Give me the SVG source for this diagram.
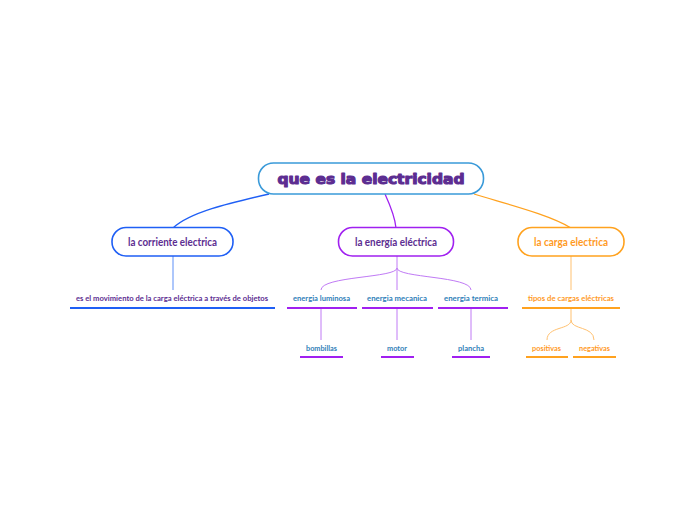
<svg xmlns="http://www.w3.org/2000/svg" width="697" height="520" viewBox="0 0 697 520">
<style>
text{font-family:"Lato","Open Sans","DejaVu Sans",sans-serif;text-anchor:middle;}
.main{font-size:11px;font-weight:700;}
.sub{font-size:8px;font-weight:700;}
.pur{fill:#5c2d91;}
.blu{fill:#2f80b8;}
.org{fill:#ff9a1f;}
.box{fill:#fff;stroke-width:1.6;}
.ul{stroke-width:2.2;fill:none;}
.ln{fill:none;stroke-width:1;}
</style>
<rect width="697" height="520" fill="#fff"/>
<g id="connectors">
<path d="M269,194 C230,203 190,212 173,228" stroke="#1f5ff5" stroke-width="1.3" fill="none"/>
<path d="M385,194 C390,205 395,216 396,228" stroke="#a020f0" stroke-width="1.3" fill="none"/>
<path d="M474,194 C510,205 550,215 571,228" stroke="#ffa21f" stroke-width="1.3" fill="none"/>
<path d="M173,256 L173,290" class="ln" stroke="#5d8ff7"/>
<path d="M397,256 L397,268 C397,278 321,276 321,290 M397,268 L397,290 M397,268 C397,278 471,276 471,290" class="ln" stroke="#c07af5"/>
<path d="M321,308 L321,340 M397,308 L397,340 M471,308 L471,340" class="ln" stroke="#c07af5"/>
<path d="M571,256 L571,290" class="ln" stroke="#ffc170"/>
<path d="M571,308 L571,320 C571,330 547,326 547,340 M571,320 C571,330 594,326 594,340" class="ln" stroke="#ffc170"/>
</g>
<g id="root">
<rect x="258.5" y="163" width="225" height="31" rx="15" class="box" stroke="#3a9ad9"/>
<text x="371" y="184" class="pur" style="font-family:'DejaVu Sans',sans-serif;font-size:14px;font-weight:700;stroke:#5c2d91;stroke-width:1.1;stroke-linejoin:round;" textLength="187" lengthAdjust="spacingAndGlyphs">que es la electricidad</text>
</g>
<g id="corriente">
<rect x="112" y="227.5" width="121" height="28.5" rx="14" class="box" stroke="#1f5ff5"/>
<text x="172.5" y="245.5" class="main pur" textLength="89" lengthAdjust="spacingAndGlyphs">la corriente electrica</text>
</g>
<g id="corriente-def">
<text x="172" y="301" class="sub pur" textLength="192" lengthAdjust="spacingAndGlyphs">es el movimiento de la carga eléctrica a través de objetos</text>
<line x1="70" y1="308" x2="275" y2="308" class="ul" stroke="#1f5ff5"/>
</g>
<g id="energia">
<rect x="338.5" y="227.5" width="115" height="28.5" rx="14" class="box" stroke="#a020f0"/>
<text x="396" y="245.5" class="main pur" textLength="82" lengthAdjust="spacingAndGlyphs">la energía eléctrica</text>
</g>
<g id="luminosa">
<text x="321.5" y="301" class="sub blu" textLength="57" lengthAdjust="spacingAndGlyphs">energia luminosa</text>
<line x1="287" y1="308" x2="357" y2="308" class="ul" stroke="#a020f0"/>
</g>
<g id="mecanica">
<text x="397" y="301" class="sub blu" textLength="60" lengthAdjust="spacingAndGlyphs">energia mecanica</text>
<line x1="362" y1="308" x2="433" y2="308" class="ul" stroke="#a020f0"/>
</g>
<g id="termica">
<text x="471" y="301" class="sub blu" textLength="54" lengthAdjust="spacingAndGlyphs">energia termica</text>
<line x1="438" y1="308" x2="508" y2="308" class="ul" stroke="#a020f0"/>
</g>
<g id="bombillas">
<text x="321.5" y="351" class="sub blu" textLength="31" lengthAdjust="spacingAndGlyphs">bombillas</text>
<line x1="300" y1="357" x2="343" y2="357" class="ul" stroke="#a020f0"/>
</g>
<g id="motor">
<text x="397" y="351" class="sub blu" textLength="20" lengthAdjust="spacingAndGlyphs">motor</text>
<line x1="381" y1="357" x2="414" y2="357" class="ul" stroke="#a020f0"/>
</g>
<g id="plancha">
<text x="471" y="351" class="sub blu" textLength="26" lengthAdjust="spacingAndGlyphs">plancha</text>
<line x1="452" y1="357" x2="490" y2="357" class="ul" stroke="#a020f0"/>
</g>
<g id="carga">
<rect x="518" y="227.5" width="106" height="28.5" rx="14" class="box" stroke="#ffa21f"/>
<text x="571" y="245.5" class="main org" textLength="74" lengthAdjust="spacingAndGlyphs">la carga electrica</text>
</g>
<g id="tipos">
<text x="571" y="301" class="sub org" textLength="86" lengthAdjust="spacingAndGlyphs">tipos de cargas eléctricas</text>
<line x1="522" y1="308" x2="620" y2="308" class="ul" stroke="#ffa21f"/>
</g>
<g id="positivas">
<text x="546.5" y="351" class="sub org" textLength="29" lengthAdjust="spacingAndGlyphs">positivas</text>
<line x1="526" y1="357" x2="568" y2="357" class="ul" stroke="#ffa21f"/>
</g>
<g id="negativas">
<text x="594.5" y="351" class="sub org" textLength="31" lengthAdjust="spacingAndGlyphs">negativas</text>
<line x1="573" y1="357" x2="616" y2="357" class="ul" stroke="#ffa21f"/>
</g>
</svg>
